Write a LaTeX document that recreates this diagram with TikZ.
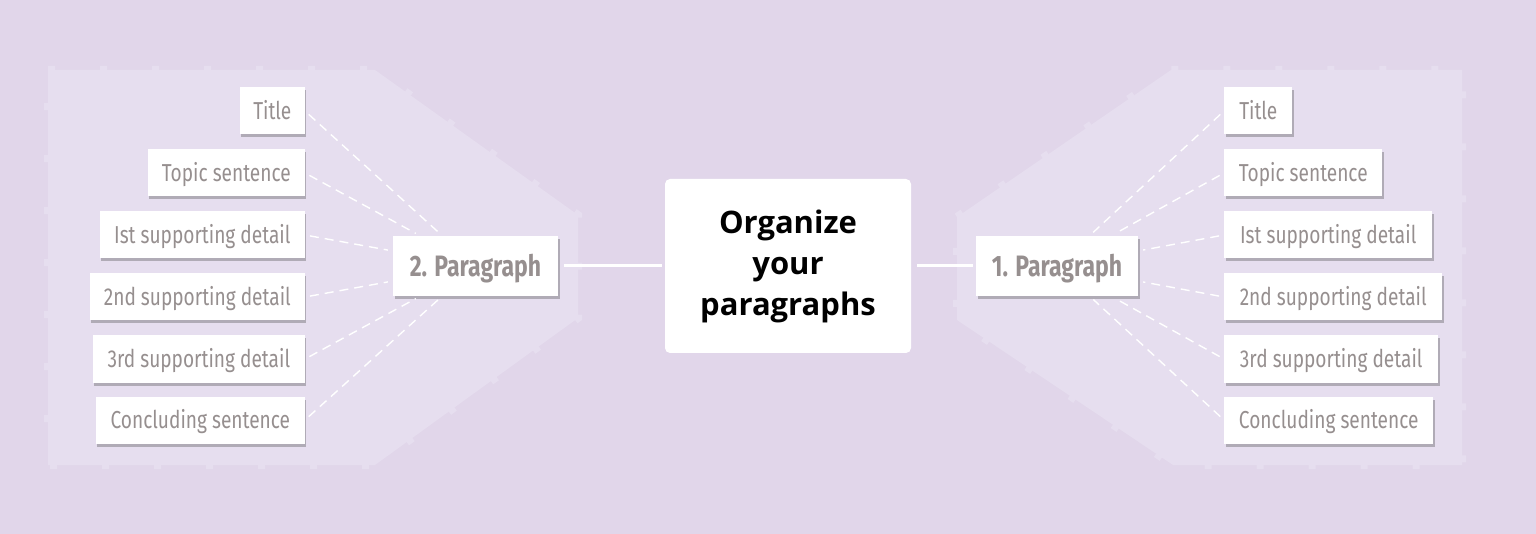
\documentclass[tikz,border=0pt]{standalone}
\usepackage{fontspec}
\newfontfamily\condfont[FakeStretch=0.78]{Fira Sans}
\newfontfamily\ctrfont{Open Sans}
\usetikzlibrary{shadows}
\definecolor{bg}{RGB}{225,214,234}
\definecolor{poly}{RGB}{230,222,239}
\definecolor{txt}{RGB}{150,143,143}
\begin{document}
\begin{tikzpicture}[x=1pt,y=-1pt,
  leaf/.style={fill=white, minimum height=47pt, inner sep=0pt, text height=17pt, text depth=0pt,
    font=\condfont\fontsize{24.5}{28}\selectfont, text=txt,
    drop shadow={shadow xshift=1.5pt, shadow yshift=-3pt, opacity=0.35, fill=black!70}},
  para/.style={leaf, minimum height=60pt, text height=21pt, text depth=0pt,
    font=\condfont\bfseries\fontsize{29.5}{34}\selectfont},
  ctr/.style={fill=white, rounded corners=5pt, inner sep=0pt, align=center,
    font=\ctrfont\bfseries\fontsize{31}{41}\selectfont, text=black},
  link/.style={draw=white, line width=1.4pt, dash pattern=on 9pt off 6pt, shorten <=5pt, shorten >=5pt},
  trunk/.style={draw=white, line width=3pt, shorten <=6pt, shorten >=3pt},
  region/.style={fill=poly, draw=poly, line width=8pt, dash pattern=on 7pt off 45pt}
]
\fill[bg] (0,0) rectangle (1536,534);
\useasboundingbox (0,0) rectangle (1536,534);
% regions
\path[region] (48,70) -- (375,70) -- (578,215) -- (578,318) -- (375,465) -- (48,465) -- cycle;
\path[region] (957,217) -- (1171,70) -- (1462,70) -- (1462,465) -- (1173,465) -- (957,320) -- cycle;
% center
\node[ctr, minimum width=246pt, minimum height=174pt] (c) at (788,266) {Organize\\your\\paragraphs};
% paragraphs
\node[para, minimum width=165pt] (p2) at (475.5,266) {2. Paragraph};
\node[para, minimum width=162pt] (p1) at (1057,266) {1. Paragraph};
% left leaves
\node[leaf, minimum width=65pt, anchor=east] (l1) at (305,111) {Title};
\node[leaf, minimum width=157pt, anchor=east] (l2) at (305,173) {Topic sentence};
\node[leaf, minimum width=205pt, anchor=east] (l3) at (305,235) {Ist supporting detail};
\node[leaf, minimum width=215pt, anchor=east] (l4) at (305,297) {2nd supporting detail};
\node[leaf, minimum width=212pt, anchor=east] (l5) at (305,359) {3rd supporting detail};
\node[leaf, minimum width=209pt, anchor=east] (l6) at (305,420) {Concluding sentence};
% right leaves
\node[leaf, minimum width=68pt, anchor=west] (r1) at (1224,111) {Title};
\node[leaf, minimum width=158pt, anchor=west] (r2) at (1224,173) {Topic sentence};
\node[leaf, minimum width=208pt, anchor=west] (r3) at (1224,235) {Ist supporting detail};
\node[leaf, minimum width=218pt, anchor=west] (r4) at (1224,297) {2nd supporting detail};
\node[leaf, minimum width=214pt, anchor=west] (r5) at (1224,359) {3rd supporting detail};
\node[leaf, minimum width=209pt, anchor=west] (r6) at (1224,420) {Concluding sentence};
% connectors
\draw[trunk] (p2) -- (c);
\draw[trunk] (c) -- (p1);
\foreach \i in {1,...,6}{
  \draw[link] (l\i.east) -- (p2);
  \draw[link] (r\i.west) -- (p1);
}
\end{tikzpicture}
\end{document}
